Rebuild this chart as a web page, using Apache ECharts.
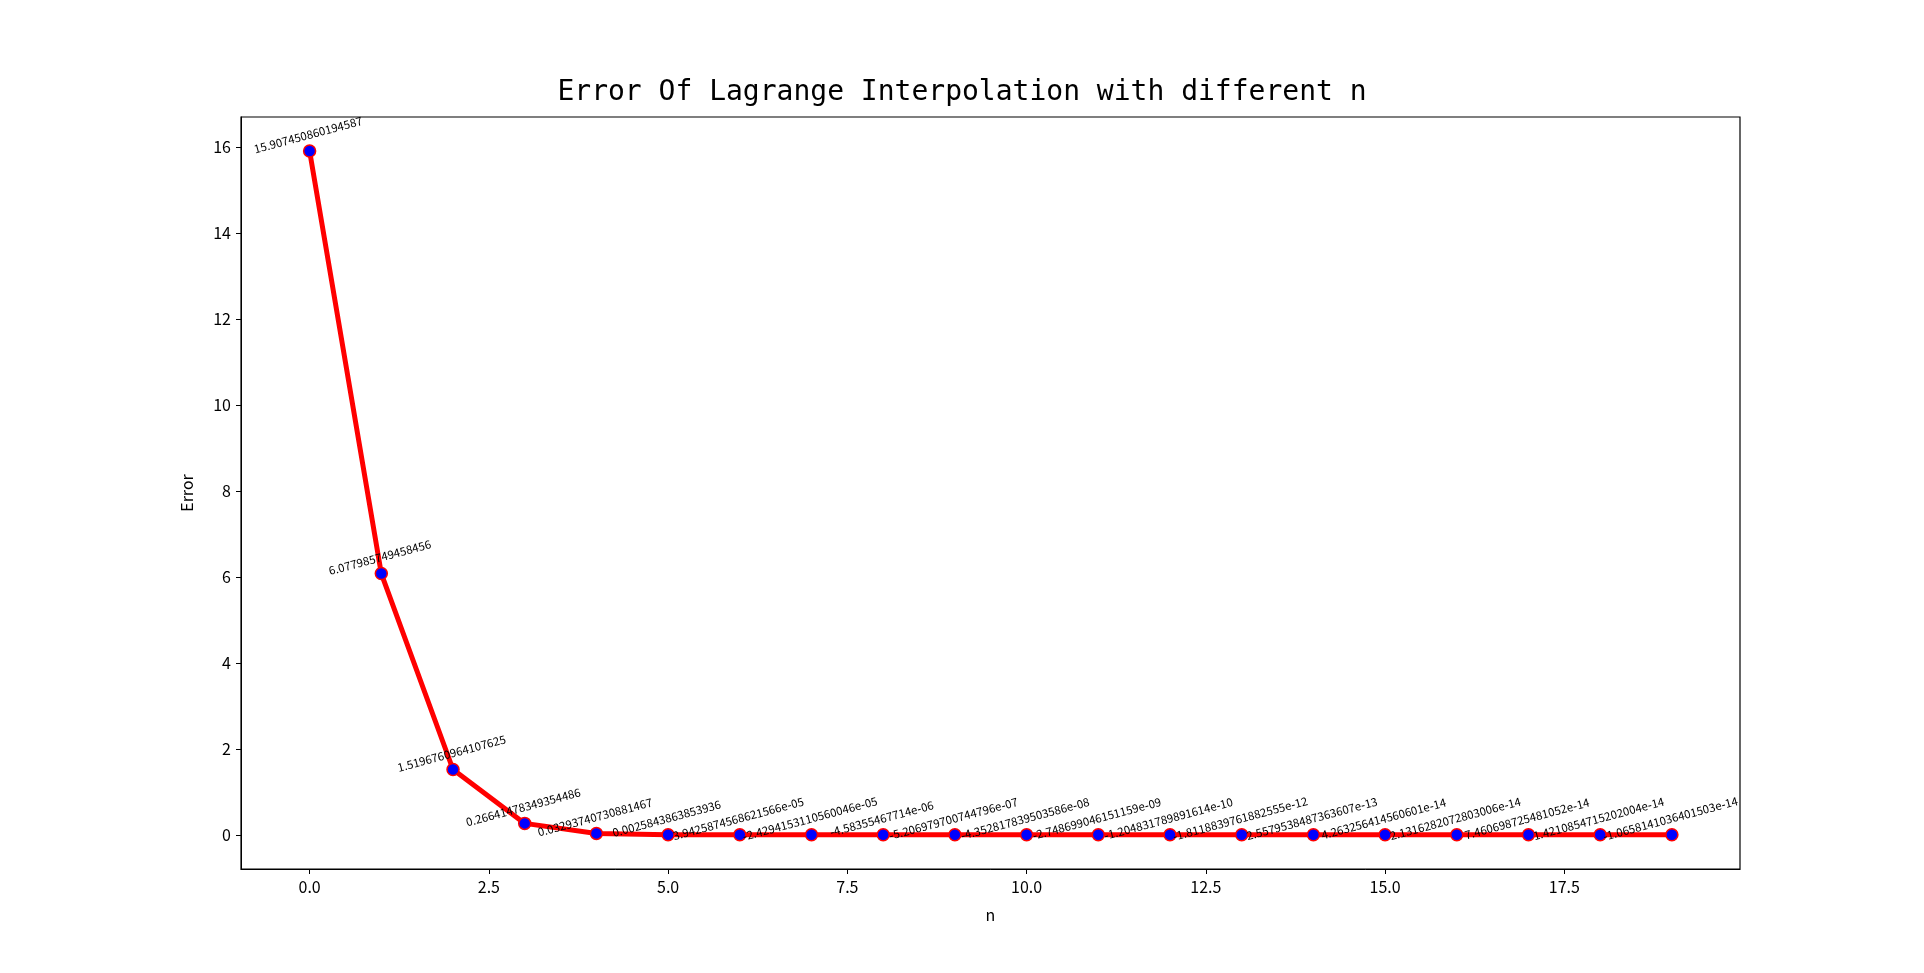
<!DOCTYPE html>
<html><head><meta charset="utf-8">
<script src="https://cdn.jsdelivr.net/npm/echarts@6/dist/echarts.min.js"></script>
<style>html,body{margin:0;padding:0;background:#fff}#c{width:1924px;height:973px}</style>
</head><body><div id="c"></div>
<script>
const nValues = [0,1,2,3,4,5,6,7,8,9,10,11,12,13,14,15,16,17,18,19];
const errorValues = [15.907450860194587, 6.077985749458456, 1.5196760964107625, 0.26641478349354486, 0.03293740730881467, 0.0025843863853936, 3.9425874568621566e-05, -2.4294153110560046e-05, -4.58355467714e-06, -5.206979700744796e-07, -4.352817839503586e-08, -2.748699046151159e-09, -1.204831789891614e-10, -1.8118839761882555e-12, 2.5579538487363607e-13, 4.263256414560601e-14, 2.1316282072803006e-14, 7.460698725481052e-14, 1.4210854715202004e-14, -1.0658141036401503e-14];
const errorLabels = ["15.907450860194587","6.077985749458456","1.5196760964107625","0.26641478349354486","0.03293740730881467","0.0025843863853936","3.9425874568621566e-05","-2.4294153110560046e-05","-4.58355467714e-06","-5.206979700744796e-07","-4.352817839503586e-08","-2.748699046151159e-09","-1.204831789891614e-10","-1.8118839761882555e-12","2.5579538487363607e-13","4.263256414560601e-14","2.1316282072803006e-14","7.460698725481052e-14","1.4210854715202004e-14","-1.0658141036401503e-14"];
const xTicks = [0,2.5,5,7.5,10,12.5,15,17.5];
const yTicks = [0,2,4,6,8,10,12,14,16];
const F = '"Noto Sans CJK SC", "DejaVu Sans", sans-serif';
const chart = echarts.init(document.getElementById('c'));
chart.setOption({
  animation:false,
  title:{text:'Error Of Lagrange Interpolation with different n',left:'center',top:74,
    textStyle:{fontFamily:'"DejaVu Sans Mono", monospace',fontSize:28,fontWeight:'normal',color:'#000'}},
  grid:{left:241,right:184,top:117,bottom:104,show:true,borderColor:'#000',borderWidth:1.2},
  xAxis:{type:'value',min:-0.957,max:19.95,name:'n',nameLocation:'middle',nameGap:38,
    nameTextStyle:{fontFamily:F,fontSize:16,color:'#000'},
    axisLine:{show:true,onZero:false,lineStyle:{color:'#000'}},splitLine:{show:false},
    axisTick:{show:true,customValues:xTicks,length:5,lineStyle:{color:'#000'}},
    axisLabel:{customValues:xTicks,fontFamily:F,fontSize:16,color:'#000',margin:10,formatter:v=>v.toFixed(1)}},
  yAxis:{type:'value',min:-0.795,max:16.70,name:'Error',nameLocation:'middle',nameGap:46,nameRotate:90,
    nameTextStyle:{fontFamily:F,fontSize:16,color:'#000'},
    axisLine:{show:true,onZero:false,lineStyle:{color:'#000'}},splitLine:{show:false},
    axisTick:{show:true,customValues:yTicks,length:5,lineStyle:{color:'#000'}},
    axisLabel:{customValues:yTicks,fontFamily:F,fontSize:16,color:'#000',margin:10}},
  series:[{type:'line',data:nValues.map((n,i)=>[n,errorValues[i]]),
    lineStyle:{color:'#ff0000',width:5},symbol:'circle',symbolSize:12,
    itemStyle:{color:'#0000ff',borderColor:'#ff0000',borderWidth:1.5},
    labelLayout:{hideOverlap:false},
    label:{show:true,position:['50%',-4],align:'center',verticalAlign:'bottom',rotate:15,
      fontFamily:F,fontSize:11.5,color:'#000',
      formatter:p=>errorLabels[p.dataIndex]}}]
});
</script></body></html>
